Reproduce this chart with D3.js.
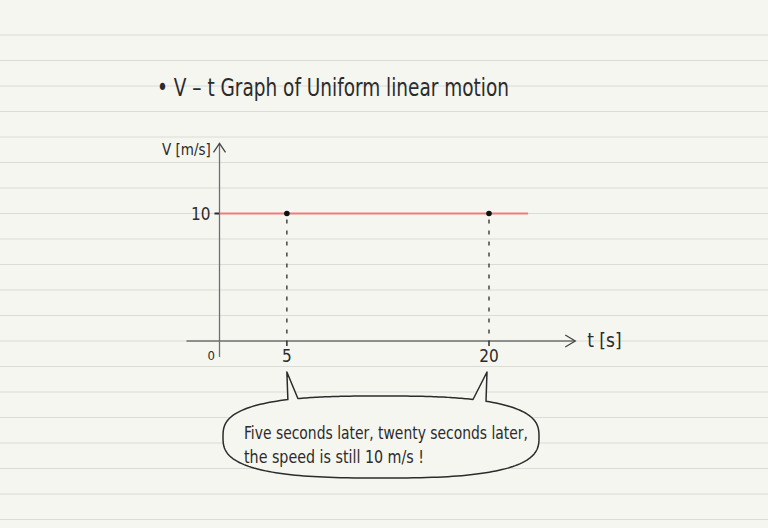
<!DOCTYPE html>
<html>
<head>
<meta charset="utf-8">
<script src="https://cdn.jsdelivr.net/npm/d3@7"></script>
<style>
  html, body { margin: 0; padding: 0; background: #f6f6f1; }
  svg { display: block; }
  .hand { font-family: "DejaVu Sans Condensed", "Liberation Sans Narrow", sans-serif; fill: #2b2b2b; }
</style>
</head>
<body>
<div id="chart"></div>
<script>
const W = 768, H = 528;
const INK = "#2b2b2b";
const AXIS = "#6f6f6f";
const RULE = "#dcdcd6";
const RED = "#ec7d7d";

// data
const speed = 10;            // m/s, constant
const markTimes = [5, 20];   // s, marked points
const lineEnd = 22.9;        // s, end of drawn red line
const xTicks = [5, 20];
const yTicks = [10];
const title = "• V – t  Graph  of  Uniform  linear  motion";
const bubbleLines = ["Five seconds later, twenty seconds later,", "the speed is still 10 m/s !"];
const bubbleWidths = [284, 180];

const svg = d3.select("#chart").append("svg")
  .attr("width", W).attr("height", H);

// notebook rules
const rules = d3.range(35, H, 25.5);
svg.append("g").selectAll("line").data(rules).join("line")
  .attr("x1", 0).attr("x2", W)
  .attr("y1", d => d).attr("y2", d => d)
  .attr("stroke", RULE).attr("stroke-width", 1.2);

// title
svg.append("text").attr("class", "hand")
  .attr("x", 157).attr("y", 96)
  .attr("font-size", 25)
  .attr("textLength", 352).attr("lengthAdjust", "spacingAndGlyphs")
  .text(title);

// scales
const x = d3.scaleLinear().domain([0, 20]).range([219.5, 489]);
const y = d3.scaleLinear().domain([0, 10]).range([341, 213.5]);

// axes
const g = svg.append("g");
g.append("line")
  .attr("x1", x(-2.45)).attr("x2", x(26.4))
  .attr("y1", y(0)).attr("y2", y(0))
  .attr("stroke", AXIS).attr("stroke-width", 1.3);
g.append("path")
  .attr("d", `M${x(26.4) - 10},${y(0) - 6}L${x(26.4)},${y(0)}L${x(26.4) - 10},${y(0) + 6}`)
  .attr("fill", "none").attr("stroke", "#444").attr("stroke-width", 1.3);
g.append("line")
  .attr("x1", x(0)).attr("x2", x(0))
  .attr("y1", y(-1.25)).attr("y2", y(15.5))
  .attr("stroke", AXIS).attr("stroke-width", 1.3);
g.append("path")
  .attr("d", `M${x(0) - 6},${y(15.5) + 9}L${x(0)},${y(15.5)}L${x(0) + 6},${y(15.5) + 9}`)
  .attr("fill", "none").attr("stroke", "#444").attr("stroke-width", 1.3);

// axis labels
svg.append("text").attr("class", "hand")
  .attr("x", 162).attr("y", 155).attr("font-size", 15)
  .text("V [m/s]");
svg.append("text").attr("class", "hand")
  .attr("x", x(26.4) + 12).attr("y", y(0) + 6).attr("font-size", 19)
  .text("t [s]");
svg.append("text").attr("class", "hand")
  .attr("x", x(0) - 12).attr("y", y(0) + 19).attr("font-size", 13)
  .text("0");

// ticks
g.selectAll(".ytick").data(yTicks).join("line").attr("class", "ytick")
  .attr("x1", x(0) - 5).attr("x2", x(0))
  .attr("y1", d => y(d)).attr("y2", d => y(d))
  .attr("stroke", INK).attr("stroke-width", 2);
svg.selectAll(".ylab").data(yTicks).join("text").attr("class", "ylab hand")
  .attr("x", x(0) - 9).attr("y", d => y(d) + 6)
  .attr("text-anchor", "end").attr("font-size", 17)
  .text(d => d);
g.selectAll(".xtick").data(xTicks).join("line").attr("class", "xtick")
  .attr("x1", d => x(d)).attr("x2", d => x(d))
  .attr("y1", y(0)).attr("y2", y(0) + 5)
  .attr("stroke", INK).attr("stroke-width", 1.5);
svg.selectAll(".xlab").data(xTicks).join("text").attr("class", "xlab hand")
  .attr("x", d => x(d)).attr("y", y(0) + 21)
  .attr("text-anchor", "middle").attr("font-size", 17)
  .text(d => d);

// dashed drop lines
svg.selectAll(".drop").data(markTimes).join("line").attr("class", "drop")
  .attr("x1", d => x(d)).attr("x2", d => x(d))
  .attr("y1", y(speed) + 6).attr("y2", y(0))
  .attr("stroke", INK).attr("stroke-width", 1.3)
  .attr("stroke-dasharray", "4,7");

// constant speed line
svg.append("line")
  .attr("x1", x(0)).attr("x2", x(lineEnd))
  .attr("y1", y(speed)).attr("y2", y(speed))
  .attr("stroke", RED).attr("stroke-width", 2);

// points
svg.selectAll(".pt").data(markTimes).join("circle").attr("class", "pt")
  .attr("cx", d => x(d)).attr("cy", y(speed)).attr("r", 2.8)
  .attr("fill", "#111");

// speech bubble (superellipse with two spikes pointing at t = 5 and t = 20)
const cx = 381, cy = 437, rx = 158, ry = 41, n = 2.8;
const tipY = y(0) + 31;
const aL = x(markTimes[0]), aR = x(markTimes[1]);
const sgn = v => (v < 0 ? -1 : 1);
const pt = t => [
  cx + rx * sgn(Math.cos(t)) * Math.abs(Math.cos(t)) ** (2 / n),
  cy + ry * sgn(Math.sin(t)) * Math.abs(Math.sin(t)) ** (2 / n)
];
const tAt = xx => {
  const u = (xx - cx) / rx;
  return -Math.acos(sgn(u) * Math.abs(u) ** (n / 2));
};
const p = d3.path();
const tL0 = tAt(aL + 11), tL1 = tAt(aL + 1), tR0 = tAt(aR - 3), tR1 = tAt(aR - 16);
p.moveTo(...pt(tL0));
p.lineTo(aL, tipY);
p.lineTo(...pt(tL1));
const sweep = tL1 - (tR0 - 2 * Math.PI);
for (let i = 1; i <= 160; i++) p.lineTo(...pt(tL1 - sweep * i / 160));
p.lineTo(aR - 2, tipY);
p.lineTo(...pt(tR1));
for (let i = 1; i <= 60; i++) p.lineTo(...pt(tR1 + (tL0 - tR1) * i / 60));
p.closePath();
svg.append("path").attr("d", p.toString())
  .attr("fill", "#f6f6f1").attr("stroke", INK).attr("stroke-width", 1.5)
  .attr("stroke-linejoin", "round");

svg.selectAll(".bub").data(bubbleLines).join("text").attr("class", "bub hand")
  .attr("x", 244).attr("y", (d, i) => 439 + i * 24)
  .attr("font-size", 17)
  .attr("textLength", (d, i) => bubbleWidths[i]).attr("lengthAdjust", "spacingAndGlyphs")
  .text(d => d);
</script>
</body>
</html>
